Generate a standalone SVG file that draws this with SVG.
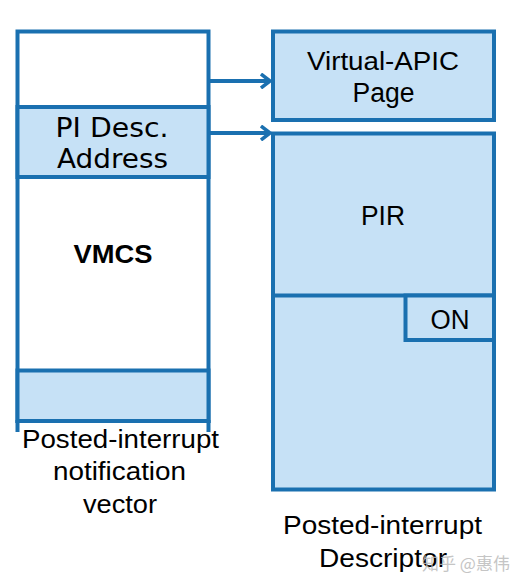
<svg xmlns="http://www.w3.org/2000/svg" width="515" height="586" viewBox="0 0 515 586">
<defs>
<style>
.box{fill:#c6e1f6;stroke:#1a70b0;stroke-width:4}
.wbox{fill:#ffffff;stroke:#1a70b0;stroke-width:4}
.ln{fill:none;stroke:#1a70b0;stroke-width:4}
.t{font-family:"Liberation Sans",Arial,sans-serif;font-size:26px;fill:#000;text-anchor:middle}
.v{font-family:"DejaVu Sans",Verdana,sans-serif;font-size:26px;fill:#000;text-anchor:middle}
.b{font-weight:bold}
.wm{font-family:"Noto Sans CJK SC","Liberation Sans",sans-serif;font-size:17px;fill:#bbbbbb;opacity:0.85}
</style>
<marker id="ah" markerWidth="12" markerHeight="16" refX="10" refY="8" orient="auto" markerUnits="userSpaceOnUse">
<path d="M1,1 L10,8 L1,15" fill="none" stroke="#1a70b0" stroke-width="3.5"/>
</marker>
</defs>
<rect width="515" height="586" fill="#ffffff"/>
<g id="vmcs">
<rect class="wbox" x="17.5" y="31.5" width="191" height="389.5"/>
<rect class="box" x="17.5" y="107" width="191" height="70"/>
<rect class="box" x="17.5" y="370.5" width="191" height="50.5"/>
<path class="ln" d="M17.5,420 V432 M208.5,420 V432"/>
<text class="v" x="112" y="137" textLength="113" lengthAdjust="spacingAndGlyphs">PI Desc.</text>
<text class="v" x="112.5" y="168" textLength="111" lengthAdjust="spacingAndGlyphs">Address</text>
<text class="t b" x="113" y="262.5" style="font-size:25px" textLength="79" lengthAdjust="spacingAndGlyphs">VMCS</text>
</g>
<g id="vapic">
<rect class="box" x="273" y="31.5" width="221" height="88.5"/>
<text class="t" x="383" y="70" textLength="152" lengthAdjust="spacingAndGlyphs">Virtual-APIC</text>
<text class="t" x="383.5" y="102" style="font-size:27px" textLength="62" lengthAdjust="spacingAndGlyphs">Page</text>
</g>
<g id="pid">
<rect class="box" x="273" y="133.5" width="221" height="356"/>
<path class="ln" d="M273,295.5 H494"/>
<rect class="box" x="405.5" y="295.5" width="88.5" height="44.5"/>
<text class="t" x="383" y="225" style="font-size:28px" textLength="44" lengthAdjust="spacingAndGlyphs">PIR</text>
<text class="t" x="450" y="329" style="font-size:27px" textLength="39" lengthAdjust="spacingAndGlyphs">ON</text>
</g>
<g id="connectors">
<path class="ln" d="M210,81 H270" marker-end="url(#ah)"/>
<path class="ln" d="M210,133 H270" marker-end="url(#ah)"/>
</g>
<g id="labels">
<text class="t" x="120.5" y="448" textLength="197" lengthAdjust="spacingAndGlyphs">Posted-interrupt</text>
<text class="t" x="119.5" y="480" textLength="133" lengthAdjust="spacingAndGlyphs">notification</text>
<text class="t" x="120" y="513" textLength="74" lengthAdjust="spacingAndGlyphs">vector</text>
<text class="t" x="382.5" y="534" textLength="199" lengthAdjust="spacingAndGlyphs">Posted-interrupt</text>
<text class="t" x="383" y="567" textLength="128" lengthAdjust="spacingAndGlyphs">Descriptor</text>
<text class="wm" x="422" y="570">知乎 @惠伟</text>
</g>
</svg>
